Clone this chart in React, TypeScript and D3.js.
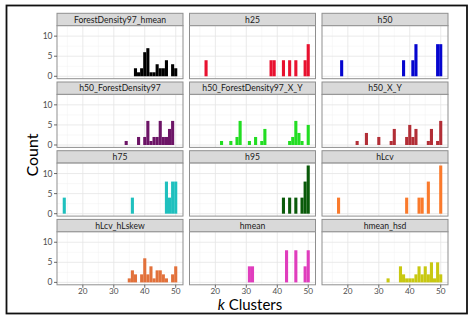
import React from "react";
import * as d3 from "d3";

const panelNames = [
  "ForestDensity97_hmean", "h25", "h50",
  "h50_ForestDensity97", "h50_ForestDensity97_X_Y", "h50_X_Y",
  "h75", "h95", "hLcv",
  "hLcv_hLskew", "hmean", "hmean_hsd",
];

const panelColors = [
  "#000000", "#E8112F", "#0505CF",
  "#6C1466", "#22DD22", "#B22E36",
  "#1FC0BE", "#0A5A0A", "#FA7A2C",
  "#E2713B", "#E03DBD", "#C8C811",
];

// k (cluster count) of each histogram bin and its count, per panel
const binK: number[][] = [
  [37, 38, 39, 40, 41, 42, 43, 44, 45, 46, 47, 49, 50],
  [17, 38, 39, 42, 44, 46, 49, 50],
  [18, 38, 41, 42, 49, 50],
  [34, 38, 40, 41, 42, 43, 44, 45, 46, 47, 48, 49],
  [22, 25, 27, 28, 31, 33, 35, 36, 44, 45, 46, 47, 48, 50],
  [23, 26, 30, 34, 35, 39, 40, 41, 42, 46, 47, 49, 50],
  [14, 36, 47, 48, 49, 50],
  [42, 44, 46, 48, 49, 50],
  [17, 39, 43, 44, 46, 50],
  [35, 36, 37, 39, 40, 41, 42, 43, 44, 45, 46, 47, 49, 50],
  [31, 32, 43, 46, 49, 50],
  [33, 37, 38, 39, 40, 41, 42, 43, 44, 45, 46, 47, 48, 49, 50],
];
const binN: number[][] = [
  [2, 1, 2, 6, 7, 1, 1, 3, 2, 2, 4, 3, 2],
  [4, 4, 4, 4, 4, 4, 4, 8],
  [4, 4, 4, 8, 8, 8],
  [1, 2, 2, 6, 1, 2, 2, 6, 2, 2, 4, 6],
  [1, 1, 2, 6, 1, 2, 1, 4, 1, 2, 6, 3, 1, 5],
  [1, 3, 2, 1, 4, 2, 5, 2, 4, 1, 4, 1, 6],
  [4, 4, 8, 4, 8, 8],
  [4, 4, 4, 4, 8, 12],
  [4, 4, 4, 4, 8, 12],
  [1, 3, 2, 2, 6, 2, 4, 1, 3, 3, 2, 1, 2, 4],
  [4, 4, 8, 8, 4, 8],
  [1, 4, 2, 1, 1, 1, 2, 4, 2, 4, 2, 5, 1, 5, 2],
];

const xTicks = [20, 30, 40, 50];
const xMinor = [15, 25, 35, 45];
const yTicks = [0, 5, 10];
const yMinor = [2.5, 7.5, 12.5];

const FONT = "Lato, 'Open Sans', sans-serif";

export default function App() {
  const W = 474, H = 323;
  const colLeft = [57, 189.5, 322];
  const pw = 126;
  const rowTop = (r: number) => 13.3 + r * 68.7;
  const sh = 12.4;
  const ph = 53;
  const x = d3.scaleLinear().domain([11.65, 52.35]).range([0, pw]);
  const y = d3.scaleLinear().domain([-0.6, 12.6]).range([ph, 0]);
  const borderCol = "#8F8F8F";

  return (
    <svg width={W} height={H} style={{ position: "absolute", left: 0, top: 0, background: "#fff" }} fontFamily={FONT}>
      <rect x={0} y={0} width={W} height={H} fill="#fff" />
      <rect x={6.5} y={5.5} width={460.5} height={308} fill="none" stroke="#111" strokeWidth={1.8} />
      {panelNames.map((name, i) => {
        const r = Math.floor(i / 3);
        const c = i % 3;
        const left = colLeft[c];
        const st = rowTop(r);
        const top = st + sh;
        return (
          <g key={name}>
            <rect x={left} y={st} width={pw} height={sh} fill="#D9D9D9" stroke={borderCol} strokeWidth={1} />
            <text x={left + pw / 2} y={st + sh / 2 + 3.1} textAnchor="middle" fontSize={8.6} fill="#1A1A1A">{name}</text>
            <g transform={`translate(${left},${top})`}>
              <rect x={0} y={0} width={pw} height={ph} fill="#fff" />
              {xMinor.map((t) => (
                <line key={"xm" + t} x1={x(t)} x2={x(t)} y1={0} y2={ph} stroke="#F0F0F0" strokeWidth={0.5} />
              ))}
              {yMinor.map((t) => (
                <line key={"ym" + t} x1={0} x2={pw} y1={y(t)} y2={y(t)} stroke="#F0F0F0" strokeWidth={0.5} />
              ))}
              {xTicks.map((t) => (
                <line key={"x" + t} x1={x(t)} x2={x(t)} y1={0} y2={ph} stroke="#E5E5E5" strokeWidth={0.8} />
              ))}
              {yTicks.map((t) => (
                <line key={"y" + t} x1={0} x2={pw} y1={y(t)} y2={y(t)} stroke="#E5E5E5" strokeWidth={0.8} />
              ))}
              {binK[i].map((k, j) => (
                <rect key={j} x={x(k - 0.5)} width={x(k + 0.5) - x(k - 0.5)} y={y(binN[i][j])} height={y(0) - y(binN[i][j])} fill={panelColors[i]} />
              ))}
              <rect x={0} y={0} width={pw} height={ph} fill="none" stroke={borderCol} strokeWidth={1} />
              {c === 0 && yTicks.map((t) => (
                <g key={"yt" + t}>
                  <line x1={-3} x2={0} y1={y(t)} y2={y(t)} stroke="#444" strokeWidth={0.8} />
                  <text x={-4.5} y={y(t) + 3} textAnchor="end" fontSize={8.5} fill="#4D4D4D">{t}</text>
                </g>
              ))}
              {r === 3 && xTicks.map((t) => (
                <g key={"xt" + t}>
                  <line x1={x(t)} x2={x(t)} y1={ph} y2={ph + 3} stroke="#444" strokeWidth={0.8} />
                  <text x={x(t)} y={ph + 9.6} textAnchor="middle" fontSize={8.2} fill="#4D4D4D">{t}</text>
                </g>
              ))}
            </g>
          </g>
        );
      })}
      <text transform="translate(37.5,155) rotate(-90)" textAnchor="middle" fontSize={16} fill="#000">Count</text>
      <text x={250} y={310} textAnchor="middle" fontSize={15} fill="#000">
        <tspan fontStyle="italic">k</tspan> Clusters
      </text>
    </svg>
  );
}
